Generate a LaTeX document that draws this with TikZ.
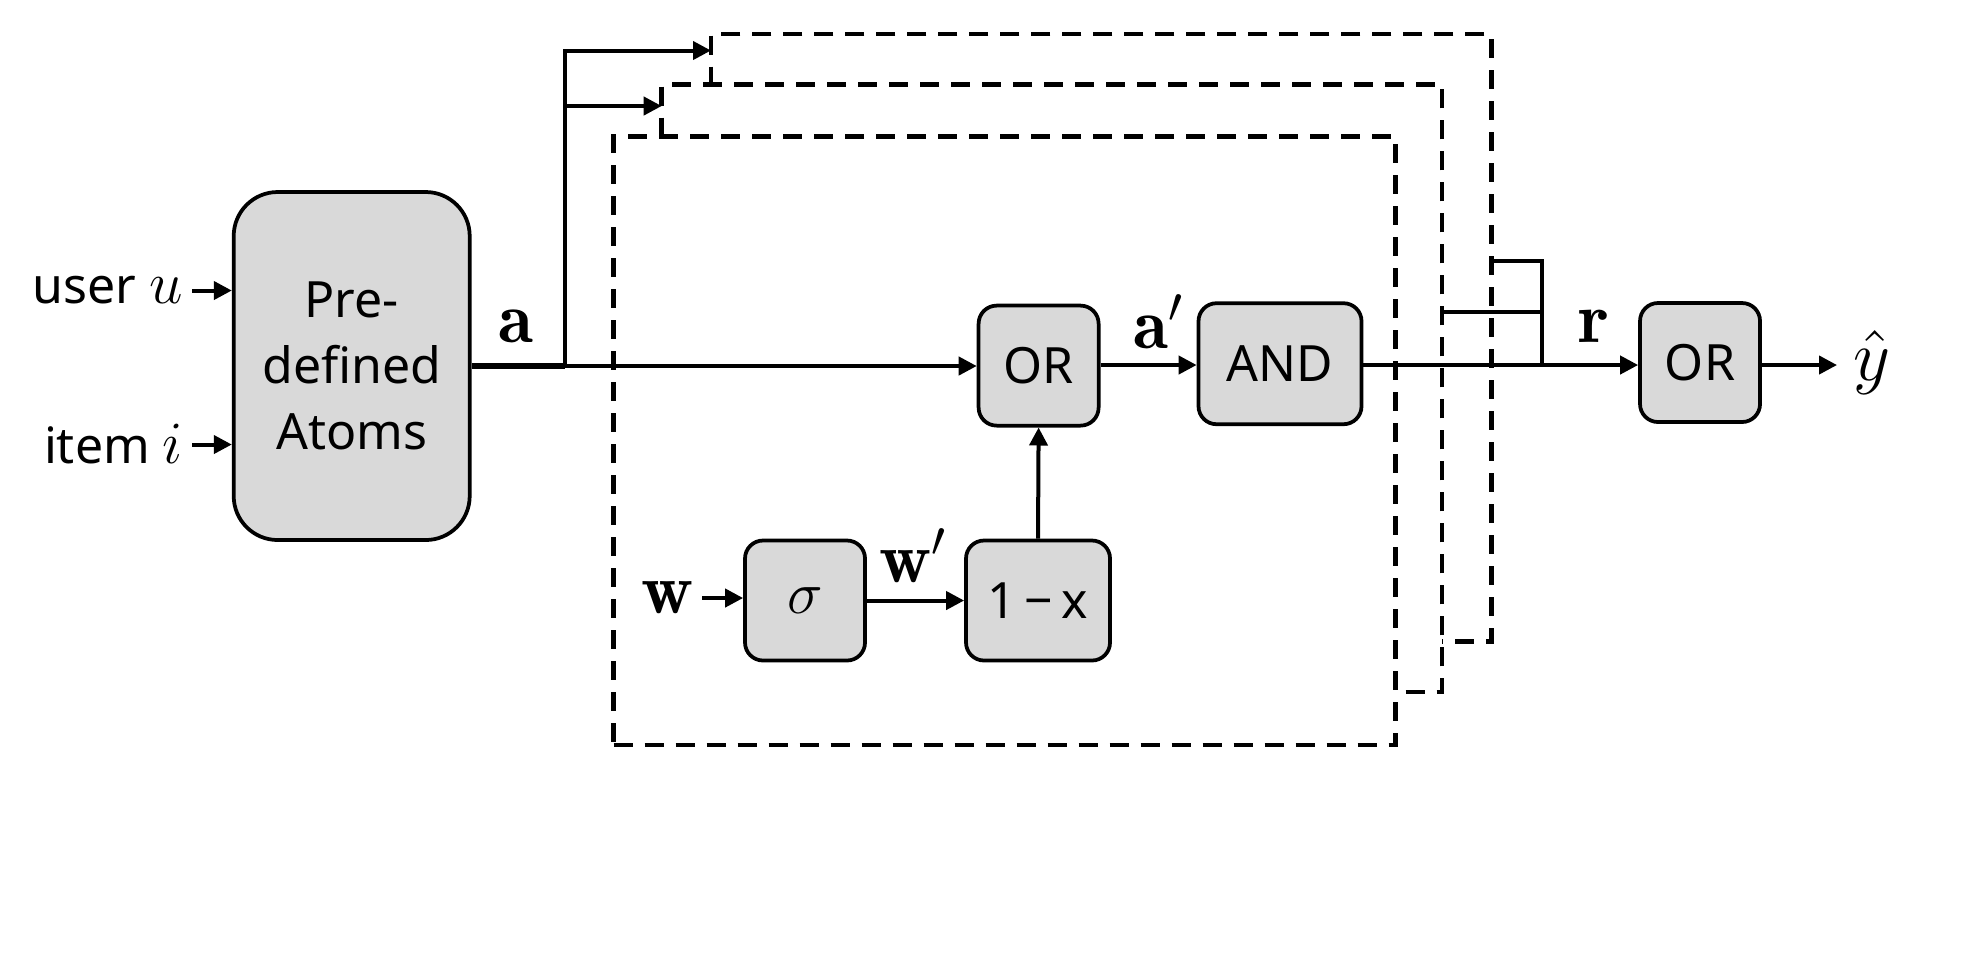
\documentclass[tikz,border=0pt]{standalone}
\usepackage{fontspec}
\newfontfamily\labelfont{Noto Sans}
\usetikzlibrary{arrows.meta}
\definecolor{boxgray}{HTML}{D9D9D9}
\begin{document}
\begin{tikzpicture}[x=0.2pt,y=-0.2pt,
  gate/.style={draw, line width=0.75pt, fill=boxgray, rounded corners=3.6pt,
    font=\labelfont\fontsize{10}{13.2}\selectfont, inner sep=0pt, align=center},
  dashbox/.style={draw, line width=0.9pt, dash pattern=on 3.8pt off 2.4pt, fill=white, inner sep=0pt},
  conn/.style={line width=0.8pt, -{Triangle[length=3.6pt,width=3.6pt]}},
  wire/.style={line width=0.8pt},
  lbl/.style={inner sep=0pt, font=\fontsize{14.4}{16}\selectfont},
  txt/.style={inner sep=0pt, font=\labelfont\fontsize{10}{13}\selectfont}]
\useasboundingbox (0,0) rectangle (1980,964);

% stacked dashed frames
\node[dashbox, minimum width=156.08pt, minimum height=121.5pt] (outer) at (1101.2,337.75) {};
\node[dashbox, minimum width=156.06pt, minimum height=121.48pt] (middle) at (1051.85,388.3) {};
\node[dashbox, minimum width=156.34pt, minimum height=121.72pt] (inner) at (1004.55,440.7) {};

% predefined atoms
\node[gate, rounded corners=8.8pt, minimum width=47.2pt, minimum height=69.6pt] (pre) at (351.7,366) {Pre-\\defined\\Atoms};
\node[txt, anchor=east] (user) at (184,290.5) {user {\fontsize{12}{13}\selectfont$u$}};
\node[txt, anchor=east] (item) at (184,444.5) {item {\fontsize{12}{13}\selectfont$i$}};
\draw[conn] (user.east) ++(8,0) coordinate (us) -- (pre.west |- us);
\draw[conn] (item.east) ++(8,0) coordinate (is) -- (pre.west |- is);

% gates
\node[gate, minimum width=24pt, minimum height=24pt] (or1) at (1038.6,365.6) {OR};
\node[gate, minimum width=32.6pt, minimum height=24.2pt] (and) at (1280,363.7) {AND};
\node[gate, minimum width=24pt, minimum height=24pt] (sig) at (805,600.5) {\fontsize{12}{13}\selectfont$\sigma$};
\node[gate, minimum width=28.8pt, minimum height=24pt] (onex) at (1038,600.5) {1\,−\,x};
\node[gate, minimum width=24pt, minimum height=23.8pt] (orf) at (1700,362.5) {OR};

% labels
\node[lbl] (la) at (516,326) {$\mathbf{a}$};
\node[lbl] (lap) at (1159,322) {$\mathbf{a}'$};
\node[lbl] (lw) at (667,598) {$\mathbf{w}$};
\node[lbl] (lwp) at (914,556) {$\mathbf{w}'$};
\node[lbl] (lr) at (1594,326) {$\mathbf{r}$};
\node[lbl, anchor=west] (yhat) at (1852,362) {$\hat{y}$};

% atoms output and branches
\coordinate (aj) at (564.5,366);
\coordinate (outIn) at (711,50.5);
\coordinate (midIn) at (661.7,106);
\coordinate (midB) at (564.5,106);
\draw[line width=1.1pt] (pre.east |- aj) -- (aj);
\draw[conn] (aj) |- (outIn);
\draw[conn] (midB) -- (midIn);
\draw[conn] (aj) -- (or1.west |- aj);

% inner block
\draw[conn] (or1.east |- 0,365) -- (and.west |- 0,365);
\draw[conn] (lw.east) ++(8,0) coordinate (ws) -- (sig.west |- ws);
\draw[conn] (sig.east) -- (onex.west);
\draw[conn] (onex.north) -- (or1.south);

% right side merge
\coordinate (rj) at (1542,365);
\coordinate (outOut) at (1491.4,261.4);
\coordinate (midOut) at (1442,312);
\draw[wire] (and.east |- rj) -- (rj);
\draw[wire] (outOut) -| (rj);
\draw[wire] (midOut) -- (rj |- midOut);
\draw[conn] (rj) -- (orf.west |- rj);
\coordinate (yend) at (1837,365);
\draw[conn] (orf.east |- yend) -- (yend);
\end{tikzpicture}
\end{document}
